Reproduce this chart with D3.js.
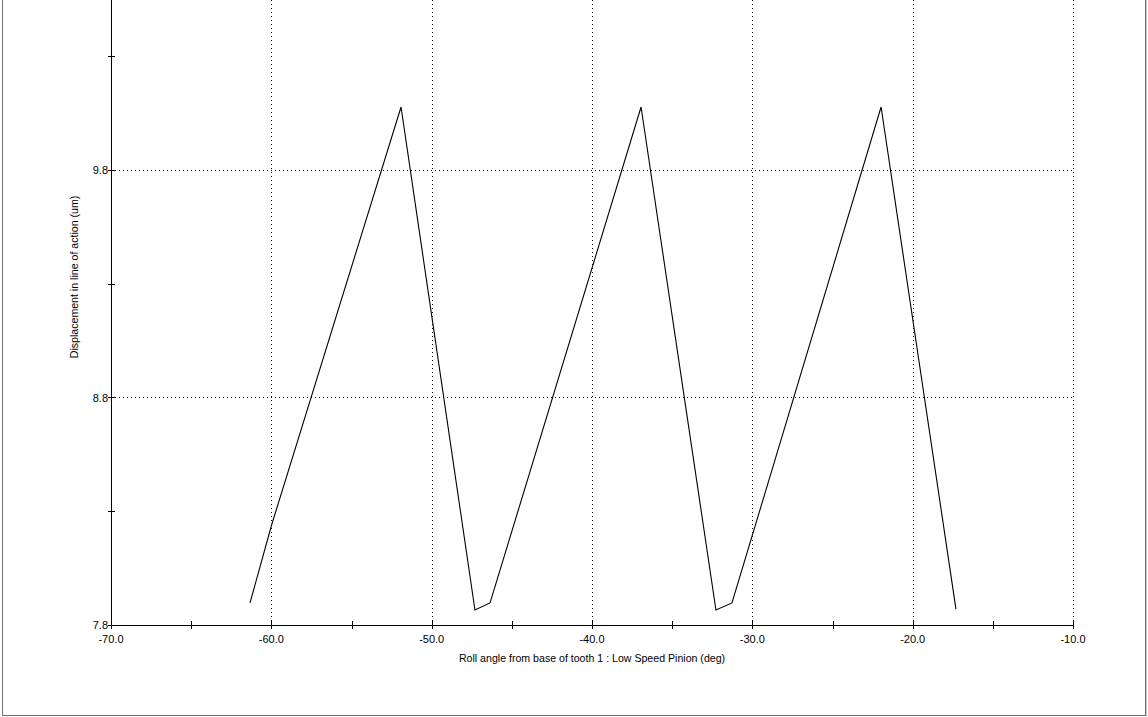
<!DOCTYPE html>
<html><head><meta charset="utf-8">
<script src="https://cdn.jsdelivr.net/npm/d3@7"></script>
<style>
html,body{margin:0;padding:0;background:#fff;}
svg{display:block;}
text{font-family:Arial,"Liberation Sans",sans-serif;font-size:11px;fill:#000;}
</style></head>
<body>
<script>
// Data
const rollAngle = [-61.33, -59.96, -51.91, -47.30, -46.36, -36.94, -32.27, -31.27, -21.97, -17.30];
const displacement = [7.897, 8.245, 10.077, 7.866, 7.897, 10.077, 7.866, 7.897, 10.077, 7.870];
const xMajorTicks = [-70, -60, -50, -40, -30, -20, -10];
const xMinorTicks = [-65, -55, -45, -35, -25, -15];
const yMajorTicks = [7.8, 8.8, 9.8];
const yMinorTicks = [8.3, 9.3, 10.3];
const xLabel = "Roll angle from base of tooth 1 : Low Speed Pinion (deg)";
const yLabel = "Displacement in line of action (um)";

const W = 1148, H = 717;
const svg = d3.select("body").append("svg").attr("width", W).attr("height", H);

// frame
svg.append("line").attr("x1",2.5).attr("x2",2.5).attr("y1",0).attr("y2",716).attr("stroke","#6e6e6e");
svg.append("line").attr("x1",2).attr("x2",1146).attr("y1",715.5).attr("y2",715.5).attr("stroke","#6e6e6e");
svg.append("line").attr("x1",1145.5).attr("x2",1145.5).attr("y1",0).attr("y2",716).attr("stroke","#6e6e6e");
svg.append("line").attr("x1",1146.5).attr("x2",1146.5).attr("y1",0).attr("y2",717).attr("stroke","#c8c8c8");

const x = d3.scaleLinear().domain([-70, -10]).range([111, 1073]);
const y = d3.scaleLinear().domain([7.8, 9.8]).range([625, 170]);
const yTop = 0;

const g = svg.append("g").attr("shape-rendering","crispEdges");

// gridlines
g.selectAll(".vg").data(xMajorTicks.filter(d => d > -70)).enter().append("line")
  .attr("x1", d => Math.round(x(d)) + 0.5).attr("x2", d => Math.round(x(d)) + 0.5)
  .attr("y1", y(7.8)).attr("y2", yTop)
  .attr("stroke","#000").attr("stroke-dasharray","1,3");
g.selectAll(".hg").data(yMajorTicks.filter(d => d > 7.8)).enter().append("line")
  .attr("x1", x(-70)).attr("x2", x(-10))
  .attr("y1", d => Math.round(y(d)) + 0.5).attr("y2", d => Math.round(y(d)) + 0.5)
  .attr("stroke","#000").attr("stroke-dasharray","1,3");

// axes lines
g.append("line").attr("x1", 111.5).attr("x2", 111.5).attr("y1", yTop).attr("y2", 625.5).attr("stroke","#000");
g.append("line").attr("x1", 111).attr("x2", 1074).attr("y1", 625.5).attr("y2", 625.5).attr("stroke","#000");

// x ticks
g.selectAll(".xt").data(xMajorTicks.concat(xMinorTicks)).enter().append("line")
  .attr("x1", d => Math.round(x(d)) + 0.5).attr("x2", d => Math.round(x(d)) + 0.5)
  .attr("y1", 621).attr("y2", 629).attr("stroke","#000");
// y ticks
g.selectAll(".yt").data(yMajorTicks.concat(yMinorTicks)).enter().append("line")
  .attr("y1", d => Math.round(y(d)) + 0.5).attr("y2", d => Math.round(y(d)) + 0.5)
  .attr("x1", 108).attr("x2", 115).attr("stroke","#000");

// tick labels
svg.selectAll(".xl").data(xMajorTicks).enter().append("text")
  .attr("x", d => x(d)).attr("y", 643).attr("text-anchor","middle")
  .text(d => d.toFixed(1));
svg.selectAll(".yl").data(yMajorTicks).enter().append("text")
  .attr("x", 108).attr("y", d => y(d) + 4).attr("text-anchor","end")
  .text(d => d.toFixed(1));

// axis titles
svg.append("text").attr("x", 592).attr("y", 662).attr("text-anchor","middle")
  .style("font-size","10.6px").text(xLabel);
svg.append("text").attr("transform","translate(78,277) rotate(-90)").attr("text-anchor","middle")
  .style("font-size","10.6px").text(yLabel);

// data line
const line = d3.line().x((d,i) => x(rollAngle[i])).y(d => y(d));
svg.append("path").datum(displacement).attr("d", line)
  .attr("fill","none").attr("stroke","#000").attr("stroke-width",1.1);
</script>
</body></html>
